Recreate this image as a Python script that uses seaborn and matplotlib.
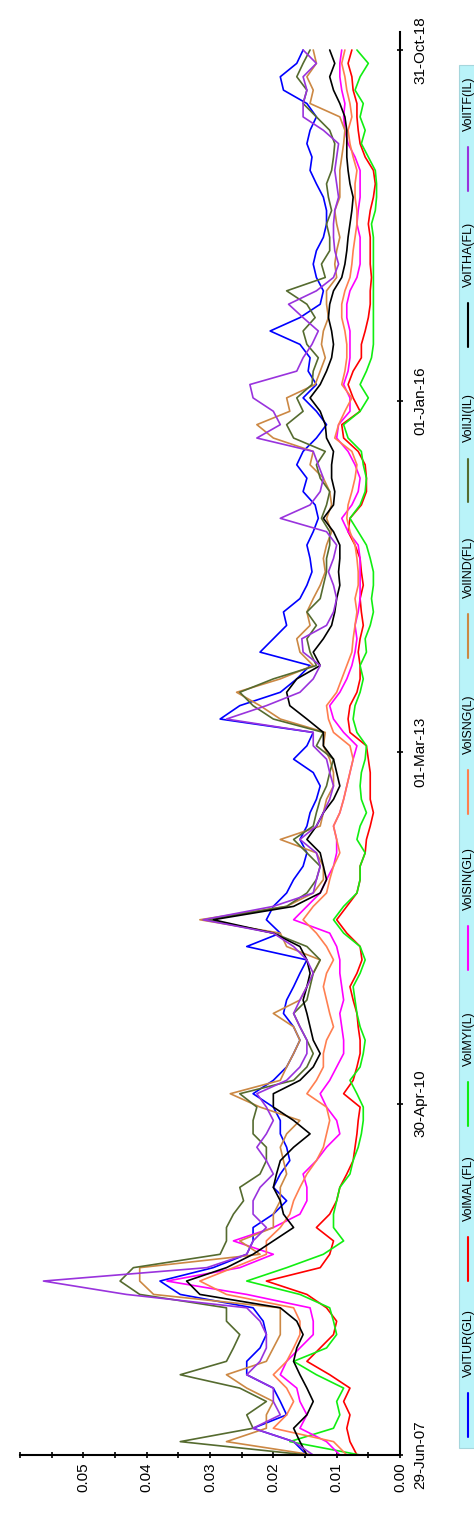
import numpy as np
import pandas as pd
import matplotlib.pyplot as plt
import seaborn as sns
from matplotlib.lines import Line2D
from matplotlib.patches import Rectangle

# volatility read off the chart, in per mille, sampled about every 39 days
# from 29-Jun-07 to 31-Oct-18 (106 points per series)
vol_tur = [14.7, 16.8, 23.2, 17.9, 18.9, 20.0, 24.2, 24.2, 22.1, 21.1, 21.6, 23.2, 34.7, 37.9, 29.5, 24.2, 23.2, 23.2, 20.0, 17.9, 20.0, 18.9, 17.4, 17.9, 18.9, 18.9, 20.0,
           23.2, 20.0, 17.9, 16.8, 15.8, 16.8, 18.4, 17.9, 16.8, 15.8, 14.7, 24.2, 18.9, 21.1, 20.0, 17.9, 16.8, 15.3, 14.7, 15.8, 14.7, 14.2, 13.2, 12.6, 13.7, 16.8, 14.7,
           13.7, 28.4, 25.3, 18.9, 16.3, 14.2, 22.1, 20.0, 17.9, 18.4, 15.8, 14.7, 13.9, 14.2, 14.7, 13.7, 12.9, 13.4, 15.3, 14.7, 16.3, 15.3, 13.2, 11.6, 13.2, 15.3,
           13.2, 14.5, 14.2, 15.8, 20.5, 15.8, 12.6, 12.1, 13.2, 13.7, 13.2, 12.1, 11.6, 11.6, 12.1, 13.2, 14.2, 13.9, 14.7, 14.2, 13.2, 14.7, 18.4, 18.9, 16.3, 15.3]
vol_mal = [6.8, 7.9, 8.4, 7.9, 8.9, 7.9, 11.1, 14.7, 12.6, 10.5, 10.0, 11.6, 14.7, 21.1, 12.6, 11.1, 10.5, 13.2, 11.1, 10.0, 9.5, 8.4, 7.4, 7.1, 6.8, 6.6, 6.3,
           8.9, 7.4, 6.8, 6.3, 6.3, 6.6, 6.8, 7.4, 7.9, 6.8, 6.0, 6.3, 8.4, 10.0, 8.4, 6.8, 6.3, 6.3, 5.5, 5.3, 4.7, 4.2, 4.7, 4.7, 4.7, 5.0, 5.3,
           7.9, 8.2, 7.9, 6.8, 6.3, 6.3, 6.6, 6.3, 5.8, 6.1, 6.3, 5.8, 6.1, 6.3, 7.1, 8.2, 7.9, 6.1, 5.3, 5.3, 5.5, 6.6, 8.9, 9.2, 6.3, 7.4,
           8.2, 7.4, 6.1, 6.1, 5.5, 5.0, 4.7, 4.7, 4.5, 4.7, 4.7, 4.7, 5.0, 4.7, 4.2, 3.9, 4.2, 5.5, 6.3, 6.6, 6.8, 6.8, 7.4, 7.6, 8.2, 7.6]
vol_myi = [6.3, 17.4, 10.5, 9.5, 10.0, 8.9, 13.2, 16.8, 11.6, 10.0, 10.5, 11.1, 15.8, 24.2, 17.9, 12.1, 8.9, 10.5, 10.5, 10.0, 9.5, 7.9, 7.4, 6.6, 6.1, 5.8, 5.8,
           6.8, 7.9, 6.3, 5.8, 5.5, 6.3, 6.8, 7.1, 7.4, 6.3, 5.5, 6.3, 8.9, 10.5, 8.9, 6.8, 6.3, 6.3, 5.5, 6.8, 6.3, 5.3, 6.1, 6.3, 6.1, 5.5, 5.3,
           6.8, 7.4, 7.1, 6.3, 5.8, 6.3, 5.3, 5.5, 4.7, 4.2, 4.5, 4.2, 4.2, 4.7, 5.3, 6.6, 7.9, 6.3, 5.5, 5.3, 5.8, 6.1, 8.2, 8.9, 6.3, 5.0,
           6.3, 5.3, 4.5, 4.2, 4.2, 4.2, 4.2, 4.2, 4.2, 4.2, 4.2, 4.2, 4.5, 3.9, 3.7, 3.7, 3.9, 5.0, 6.1, 5.5, 6.3, 5.8, 7.1, 6.3, 5.0, 6.8]
vol_sin = [9.5, 11.6, 15.8, 14.7, 15.8, 16.3, 18.9, 17.9, 15.8, 13.7, 13.7, 14.2, 24.2, 36.8, 25.3, 20.0, 26.3, 20.0, 15.8, 14.7, 14.7, 15.3, 13.2, 11.6, 9.5, 10.0, 11.6,
           12.6, 11.1, 10.0, 8.9, 8.9, 9.2, 9.5, 8.9, 9.2, 9.5, 9.5, 10.0, 11.1, 16.8, 14.7, 12.6, 11.6, 10.5, 10.0, 10.0, 10.5, 9.5, 8.9, 8.4, 7.9, 7.4, 6.8,
           8.9, 10.5, 11.1, 9.5, 8.4, 7.6, 7.1, 6.8, 7.1, 6.6, 6.3, 6.3, 6.3, 6.3, 6.6, 8.2, 9.2, 7.6, 6.6, 6.3, 7.1, 8.2, 10.0, 9.7, 7.9, 7.9,
           8.9, 8.2, 7.9, 7.9, 7.9, 8.4, 8.4, 7.9, 6.8, 6.3, 6.3, 6.3, 6.8, 6.6, 6.3, 6.3, 6.3, 7.1, 8.2, 8.7, 8.9, 8.7, 9.2, 9.5, 9.5, 9.2]
vol_sng = [8.4, 10.5, 20.0, 17.9, 16.8, 17.9, 20.0, 17.9, 16.8, 15.8, 15.8, 16.8, 27.4, 31.6, 26.3, 21.1, 21.1, 18.9, 17.4, 16.8, 15.8, 14.7, 13.2, 12.1, 11.6, 11.1, 11.6,
           14.7, 13.2, 12.1, 12.1, 11.6, 10.5, 11.1, 11.6, 12.1, 11.6, 10.5, 11.6, 13.2, 15.3, 13.7, 11.6, 11.1, 10.5, 9.5, 10.0, 10.5, 9.5, 8.9, 8.4, 7.9, 7.4, 7.9,
           10.5, 11.3, 11.6, 10.0, 9.2, 8.4, 7.6, 7.4, 7.1, 6.8, 7.1, 6.6, 6.6, 6.8, 7.1, 7.9, 8.4, 8.2, 7.6, 7.1, 6.8, 7.6, 10.3, 9.7, 8.7, 7.6,
           9.2, 8.7, 8.4, 8.4, 8.7, 9.2, 9.2, 8.7, 7.9, 7.6, 7.4, 7.1, 6.8, 6.8, 7.1, 7.1, 6.8, 7.4, 7.9, 8.2, 7.6, 7.9, 8.4, 8.7, 9.2, 8.7]
vol_ind = [13.7, 27.4, 21.1, 21.1, 20.0, 24.2, 27.4, 21.1, 20.0, 18.9, 18.9, 18.9, 38.9, 41.1, 41.1, 22.1, 25.3, 20.0, 20.0, 18.9, 18.9, 17.9, 18.4, 18.9, 17.9, 15.8, 22.1,
           26.8, 18.9, 17.9, 16.8, 15.8, 16.8, 20.0, 15.8, 14.7, 13.7, 12.6, 17.9, 18.9, 31.6, 17.9, 13.7, 12.1, 12.1, 13.2, 18.9, 12.6, 12.1, 11.6, 10.5, 10.5, 11.1, 12.1,
           11.8, 18.9, 22.1, 25.8, 18.9, 13.7, 15.8, 16.3, 14.2, 14.7, 13.7, 12.6, 11.8, 12.1, 11.6, 10.8, 11.6, 10.8, 11.1, 12.1, 14.2, 13.7, 20.0, 22.6, 17.4, 17.9,
           13.4, 12.6, 11.8, 12.4, 12.1, 11.3, 11.6, 11.6, 10.0, 10.3, 10.0, 9.5, 10.0, 10.3, 9.5, 9.5, 9.5, 9.2, 8.9, 8.7, 9.5, 14.2, 13.7, 14.7, 13.2, 13.7]
vol_iji = [14.7, 34.7, 23.2, 24.2, 21.1, 25.3, 34.7, 27.4, 26.3, 25.3, 27.4, 27.4, 41.1, 44.2, 42.1, 28.4, 27.4, 27.4, 26.3, 24.7, 25.3, 22.1, 21.1, 21.1, 23.2, 23.2, 22.6,
           25.3, 16.8, 14.7, 13.7, 14.7, 15.8, 16.8, 14.7, 14.2, 13.7, 12.6, 14.7, 20.0, 30.5, 17.9, 14.7, 13.2, 12.6, 14.7, 16.8, 13.7, 13.2, 12.6, 11.6, 11.1, 10.5, 13.2,
           12.1, 20.0, 23.2, 25.3, 20.0, 13.2, 14.2, 14.7, 13.2, 14.7, 12.6, 12.1, 11.6, 11.6, 11.1, 11.1, 12.4, 11.6, 11.1, 12.6, 13.2, 11.8, 16.8, 17.9, 15.3, 16.3,
           13.9, 13.7, 12.9, 14.7, 15.3, 13.4, 14.7, 17.9, 11.8, 12.4, 11.1, 11.1, 11.6, 10.8, 11.3, 11.6, 10.8, 10.5, 10.3, 11.1, 13.2, 15.3, 14.7, 16.3, 15.3, 14.2]
vol_tha = [14.7, 15.8, 16.8, 14.7, 13.7, 14.7, 15.8, 16.8, 16.3, 15.3, 16.3, 18.9, 31.6, 33.7, 27.4, 23.2, 20.0, 16.8, 18.4, 18.9, 20.0, 19.5, 18.9, 16.8, 14.2, 16.8, 20.0,
           20.0, 15.8, 13.7, 12.6, 13.7, 14.2, 14.7, 15.3, 14.7, 14.2, 14.7, 15.8, 20.0, 29.5, 16.8, 12.6, 11.6, 12.1, 12.6, 14.7, 13.2, 12.1, 10.5, 9.5, 10.0, 10.5, 12.1,
           12.1, 14.7, 17.4, 17.9, 16.3, 12.6, 13.7, 12.1, 10.8, 10.3, 10.0, 9.5, 9.7, 9.5, 9.5, 10.5, 12.1, 10.5, 10.3, 10.8, 10.8, 10.5, 11.6, 11.8, 12.6, 14.2,
           12.6, 11.6, 10.8, 10.5, 10.8, 11.3, 11.1, 10.5, 9.2, 8.7, 8.4, 8.2, 7.9, 7.6, 7.4, 7.9, 8.2, 8.4, 8.4, 8.4, 8.7, 9.5, 10.5, 11.1, 10.3, 11.1]
vol_itf = [13.7, 16.8, 23.2, 18.9, 20.0, 20.0, 24.2, 22.1, 21.1, 21.1, 22.1, 24.2, 43.2, 56.3, 30.5, 24.2, 23.2, 21.1, 23.2, 23.2, 22.1, 20.0, 21.1, 22.6, 21.1, 20.0, 21.1,
           22.6, 17.9, 15.8, 14.7, 14.7, 15.8, 16.8, 15.8, 14.7, 13.7, 14.7, 16.8, 20.0, 31.1, 20.0, 13.7, 13.2, 12.6, 13.2, 15.8, 13.2, 12.1, 11.1, 10.5, 11.1, 11.6, 13.7,
           13.7, 27.4, 21.1, 15.8, 13.7, 12.6, 15.3, 15.5, 11.6, 10.5, 10.0, 10.5, 11.3, 10.5, 10.0, 11.6, 18.9, 14.2, 12.6, 12.1, 12.9, 13.7, 22.6, 18.9, 20.0, 23.2,
           23.7, 16.3, 15.3, 13.9, 12.9, 15.3, 17.6, 13.2, 10.5, 9.7, 10.3, 10.5, 10.5, 10.3, 9.7, 10.0, 10.3, 10.0, 9.7, 12.1, 15.3, 15.3, 14.7, 15.3, 13.2, 15.3]

series_names = ['VolTUR(GL)', 'VolMAL(FL)', 'VolMYI(L)', 'VolSIN(GL)', 'VolSNG(L)',
                'VolIND(FL)', 'VolIJI(IL)', 'VolTHA(FL)', 'VolITF(IL)']
series_colors = ['#0000ff', '#ff0000', '#11ee11', '#ff00ff', '#ff7f50',
                 '#cc8844', '#556b2f', '#000000', '#9933dd']
tick_dates = ['2007-06-29', '2010-04-30', '2013-03-01', '2016-01-01', '2018-10-31']
tick_labels = ['29-Jun-07', '30-Apr-10', '01-Mar-13', '01-Jan-16', '31-Oct-18']
vol_ticks = np.arange(0, 0.0601, 0.005)
vol_labels = ['0.00', '', '0.01', '', '0.02', '', '0.03', '', '0.04', '', '0.05', '', '']

all_vals = [vol_tur, vol_mal, vol_myi, vol_sin, vol_sng, vol_ind, vol_iji, vol_tha, vol_itf]
dates = pd.date_range('2007-06-29', '2018-10-31', periods=len(vol_tur))
frames = []
for name, vals in zip(series_names, all_vals):
    frames.append(pd.DataFrame({'date': dates, 'vol': np.array(vals) / 1000, 'series': name}))
df = pd.concat(frames, ignore_index=True)

sns.set_theme(style='white')
plt.rcParams['font.family'] = ['Liberation Sans', 'DejaVu Sans']

W, H = 474, 1538
fig = plt.figure(figsize=(W / 100, H / 100), dpi=100)
ax = fig.add_axes([20 / W, 1 - 1455 / H, 380 / W, (1455 - 32) / H])

# the chart is turned on its side: time runs up the page, volatility to the left
sns.lineplot(data=df, x='vol', y='date', hue='series', hue_order=series_names,
             palette=dict(zip(series_names, series_colors)), orient='y',
             estimator=None, linewidth=1.2, legend=False, ax=ax)

ax.set_xlim(0.06, 0)
ax.set_ylim(pd.Timestamp('2007-06-29'), pd.Timestamp('2018-12-23'))
ax.set_xlabel('')
ax.set_ylabel('')
for s in ['left', 'top']:
    ax.spines[s].set_visible(False)
for s in ['bottom', 'right']:
    ax.spines[s].set_color('black')
    ax.spines[s].set_linewidth(1.5)

ax.set_xticks(vol_ticks)
ax.set_xticklabels(vol_labels, rotation=90)
ax.tick_params(axis='x', bottom=True, direction='inout', length=5, width=1.2,
               pad=3, labelsize=11, colors='black')

ax.yaxis.tick_right()
ax.set_yticks(pd.to_datetime(tick_dates))
ax.set_yticklabels(tick_labels, rotation=90, va='center')
ax.tick_params(axis='y', right=True, left=False, labelright=True, labelleft=False,
               direction='inout', length=5, width=1.2, pad=7, labelsize=11, colors='black')

# legend strip along the right edge, entries stacked bottom to top
fig.patches.append(Rectangle((459 / W, 1 - 1448 / H), 20 / W, (1448 - 65) / H,
                             transform=fig.transFigure, facecolor='#b9f3f9',
                             edgecolor='#a6d6dc', linewidth=0.8, zorder=0))
for i, (name, col) in enumerate(zip(series_names, series_colors)):
    top = 1393 - 155.75 * i
    fig.lines.append(Line2D([468 / W, 468 / W], [1 - top / H, 1 - (top + 44) / H],
                            transform=fig.transFigure, color=col, linewidth=1.5))
    fig.text(469 / W, 1 - (top - 16) / H, name, rotation=90, ha='center', va='bottom',
             fontsize=9, color='black')

fig.savefig('out.png', dpi=100)
